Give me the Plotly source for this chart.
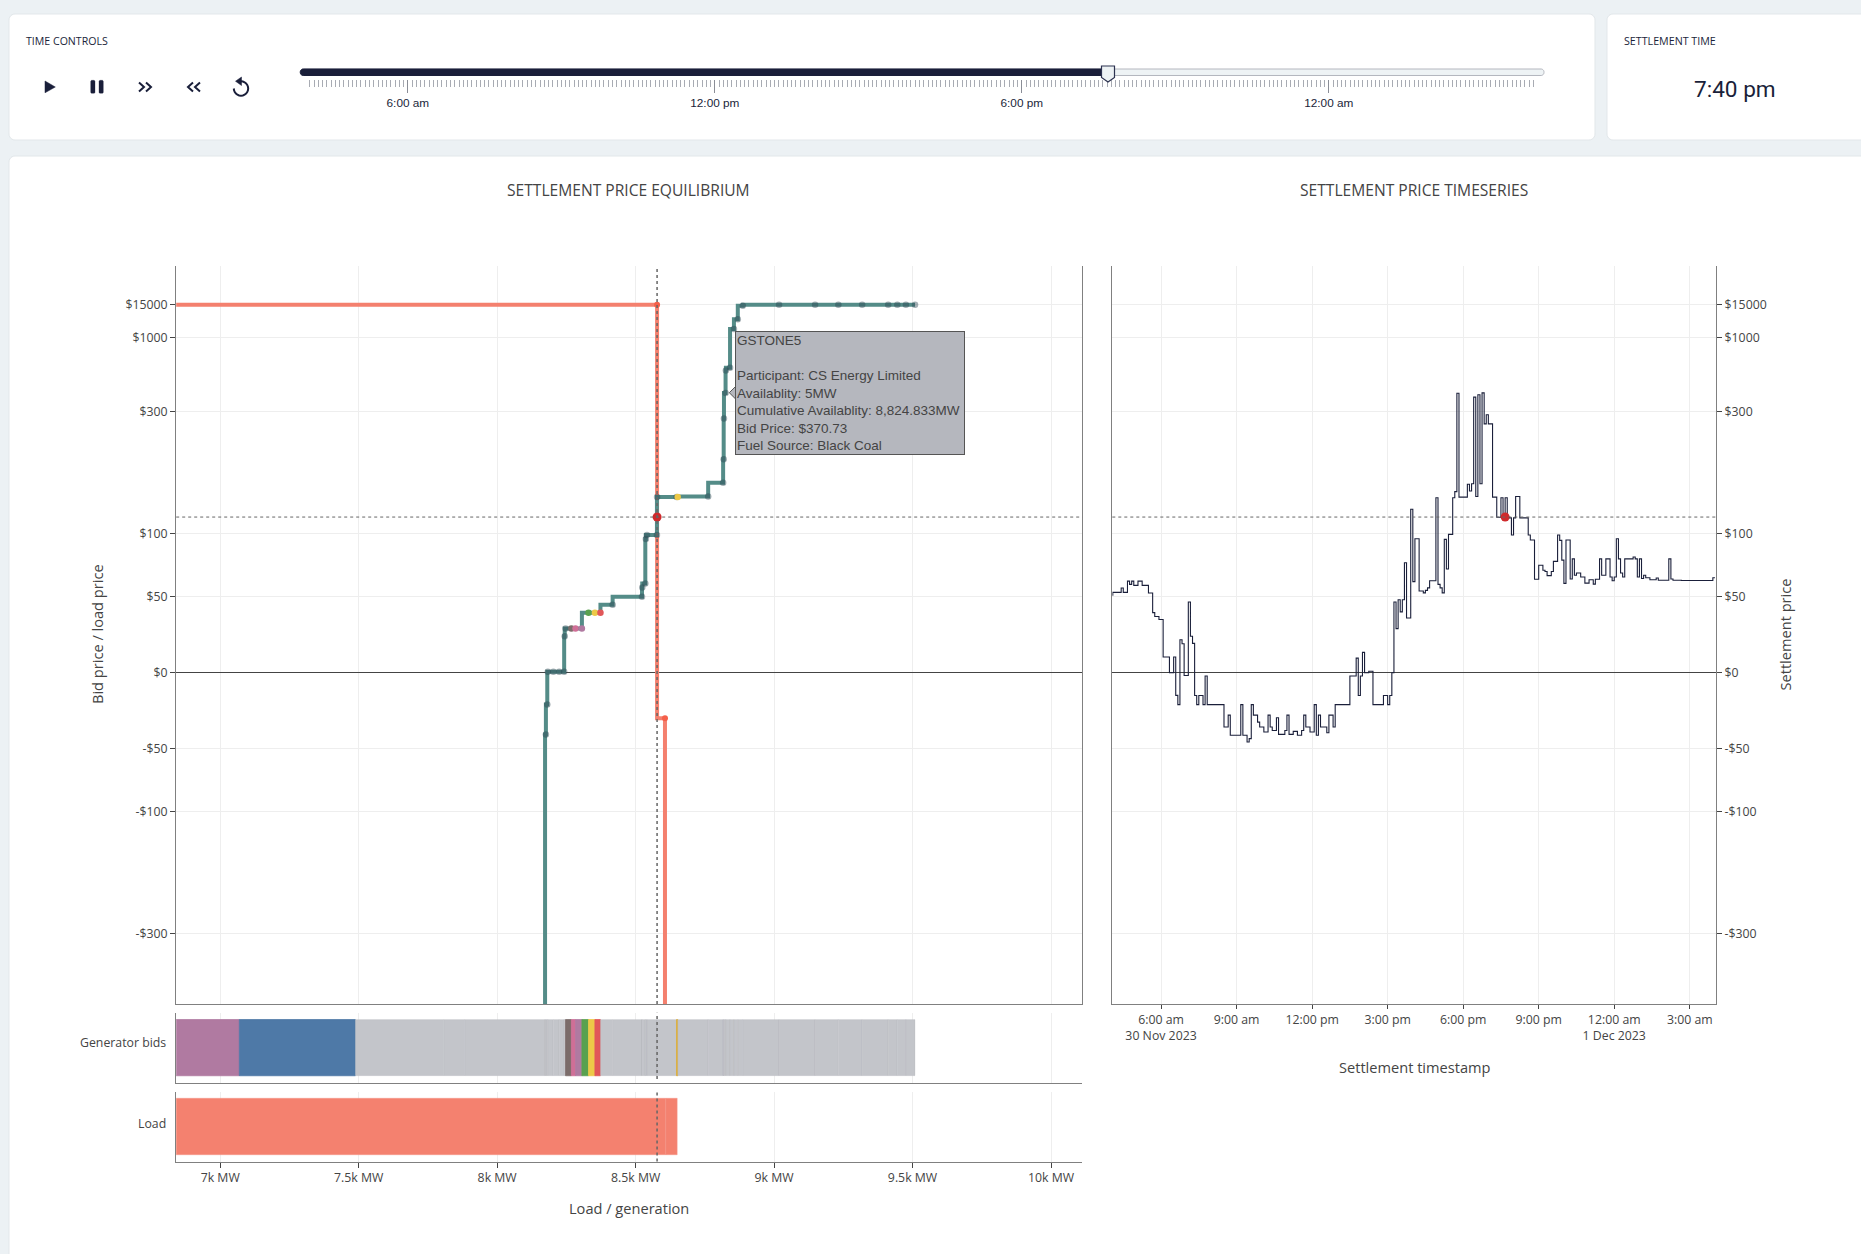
import math
import numpy as np
import pandas as pd
import plotly.graph_objects as go

W, H = 1861, 1254

# ---------- price axis: the dashboard's non-linear scale ----------
PRICE_ANCHORS = [0, 50, 100, 300, 370.73, 1000, 15000]
SCALE_ANCHORS = [0, 76, 139, 261, 279.7, 335, 368]
Y_TICK_PRICES = [15000, 1000, 300, 100, 50, 0, -50, -100, -300]
Y_TICK_LABELS = ["$15000", "$1000", "$300", "$100", "$50", "$0", "-$50", "-$100", "-$300"]
SETTLED_PRICE = 127.3
SETTLED_MW = 8577.5
SETTLED_TIME = "2023-11-30 19:40"

# ---------- generator bid stack ----------
BID_MW = [7069, 7488, 7807, 7883, 8173, 8176, 8181, 8183, 8203, 8224, 8242, 8244, 8247,
          8268, 8283, 8306, 8330, 8353, 8373, 8417, 8523, 8524, 8535, 8537, 8541, 8577,
          8577.5, 8648, 8652, 8762, 8816, 8818, 8819, 8824.833, 8826, 8841, 8855, 8869,
          8887, 9018, 9148, 9232, 9318, 9412, 9445, 9476, 9509]
BID_PRICE = [-1000, -1000, -1000, -1000, -1000, -40.6, -20.9, 0.7, 0.7, 0.7, 0.7, 24, 29,
             29, 29, 29, 39.4, 39.4, 39.4, 44.7, 50, 57.4, 60.5, 95.8, 98.9, 98.9,
             160, 160, 160, 161, 183.5, 222, 289, 370.73, 628, 658, 4640, 8840,
             14580, 15000, 15000, 15000, 15000, 15000, 15000, 15000, 15000]
BID_FUEL = ["purple", "blue"] + ["grey"] * 11 + ["brown", "pink", "purple", "green", "yellow", "red"] \
           + ["grey"] * 9 + ["gold"] + ["grey"] * 18
FUEL_COLOURS = {"purple": "#b07aa1", "blue": "#4e79a7", "grey": "#c3c5ca", "brown": "#7b6c6a",
                "pink": "#cf6f97", "green": "#59a14f", "yellow": "#edc948", "red": "#e15759",
                "gold": "#dca826"}
FUEL_MARKERS = {"purple": "#b07aa1", "blue": "#4e79a7", "grey": "rgba(40,66,78,0.42)", "brown": "#7b6c6a",
                "pink": "#cf6f97", "green": "#59a14f", "yellow": "#edc948", "red": "#e15759",
                "gold": "#edc948"}

# ---------- load curve ----------
LOAD_MW = [6800, 8577.5, 8577.5, 8606, 8606]
LOAD_PRICE = [15000, 15000, -30, -30, -1000]
LOAD_BAR_END = [8609, 8650]

# ---------- settlement price series: 5-minute interval number (from 4:05 am) and price ----------
SETTLE_N = [0, 4, 5, 7, 8, 9, 10, 12, 14, 17, 19, 20, 22, 24, 27, 29, 30, 31, 32, 33, 34, 36, 37, 38, 39, 40, 41, 43, 44, 45,
            53, 55, 56, 61, 62, 64, 65, 66, 67, 69, 70, 72, 74, 75, 76, 78, 79, 82, 83, 84, 86, 88, 90, 91, 92, 94, 96, 97, 98, 99,
            102, 103, 105, 106, 113, 116, 117, 118, 119, 120, 122, 124, 129, 131, 132, 133, 134, 135, 136, 137, 138, 139, 140, 142, 143, 144, 146, 148, 149, 150,
            151, 154, 155, 156, 157, 158, 159, 160, 162, 163, 164, 165, 169, 170, 171, 172, 173, 174, 175, 176, 177, 178, 179, 181, 183, 185, 186, 187, 188, 189,
            190, 191, 192, 194, 198, 199, 201, 203, 205, 206, 207, 209, 210, 212, 213, 214, 215, 216, 218, 219, 220, 221, 223, 225, 227, 229, 230, 232, 233, 235,
            237, 238, 239, 240, 241, 242, 243, 244, 248, 249, 250, 251, 252, 253, 254, 256, 259, 260, 265, 266, 267, 271, 286, 287]
SETTLE_PRICE = [50.8, 53.4, 56.9, 53.4, 62.4, 59.8, 62.4, 59, 62.4, 59, 52.9, 39.5, 37, 35, 10.3, 0, 10.3, -14.9, -21, 21.7, 19, -1.8, 46.5, 24, 19.3, -15, -21, -15, -21, -2.2,
                -21, -35.7, -27.9, -41.2, -21, -41.2, -45.6, -43.4, -21, -27.9, -32.5, -35.7, -39, -27.9, -35.7, -38, -29.6, -40.6, -38, -27.9, -40.6, -38.6, -41.2, -38, -27.9, -35.7, -39, -21, -41.2, -27.9,
                -35.7, -39.5, -27.9, -35.7, -21, -2.2, 9.6, -15, -2.2, 13.4, 0, 1, -21, -15, -21, -15, 0, 46.5, 29, 48, 40, 48, 77, 36, 140, 62, 96, 54.5, 53, 55,
                57, 62.7, 159, 59.8, 57, 53, 95.5, 72, 99.5, 159, 169, 370, 160, 181, 170, 182, 355, 161, 364, 182, 372, 280, 295, 280, 160, 127, 159, 127.3, 159, 127,
                126, 99, 126, 161, 126, 99, 95, 63.8, 75, 71, 70, 66.7, 70, 78, 99, 94.7, 79, 60.6, 95, 64, 80, 67, 68.8, 65.6, 60.8, 63.5, 60, 63.8, 80, 67,
                80, 65.6, 62.7, 65.6, 96, 80, 68.8, 65.6, 80, 81.5, 80, 65.6, 80, 64.5, 67, 65, 63.5, 64.8, 63, 80, 64, 63, 62.8, 65]

TIME_TICKS = ["2023-11-30 06:00", "2023-11-30 09:00", "2023-11-30 12:00", "2023-11-30 15:00", "2023-11-30 18:00",
              "2023-11-30 21:00", "2023-12-01 00:00", "2023-12-01 03:00"]
TIME_LABELS = ["6:00 am<br>30 Nov 2023", "9:00 am", "12:00 pm", "3:00 pm", "6:00 pm", "9:00 pm",
               "12:00 am<br>1 Dec 2023", "3:00 am"]
MW_TICKS = [7000, 7500, 8000, 8500, 9000, 9500, 10000]
MW_LABELS = ["7k MW", "7.5k MW", "8k MW", "8.5k MW", "9k MW", "9.5k MW", "10k MW"]
SLIDER_TICKS = ["2023-11-30 06:00", "2023-11-30 12:00", "2023-11-30 18:00", "2023-12-01 00:00"]
SLIDER_LABELS = ["6:00 am", "12:00 pm", "6:00 pm", "12:00 am"]
TOOLTIP = ("GSTONE5<br> <br>Participant: CS Energy Limited<br>Availablity: 5MW<br>"
           "Cumulative Availablity: 8,824.833MW<br>Bid Price: $370.73<br>Fuel Source: Black Coal")

NAVY = "#1a1f3a"
GRID = "#eeeeee"
AXIS = "#808080"
TEXT = "#444444"
MW_RANGE = [6841, 10113]
SCALE_RANGE = [-331.4, 406.3]
FONT = "Open Sans"


def scale(prices):
    p = np.asarray(prices, dtype=float)
    return np.sign(p) * np.interp(np.abs(p), PRICE_ANCHORS, SCALE_ANCHORS)


def X(px):
    return px / W


def Y(py):
    return 1 - py / H


def path(points, close=False):
    d = "M " + " L ".join(f"{X(a):.6f},{Y(b):.6f}" for a, b in points)
    return d + (" Z" if close else "")


def rounded(x0, y0, x1, y1, r):
    pts = []
    for cx, cy, a0 in [(x1 - r, y0 + r, -90), (x1 - r, y1 - r, 0), (x0 + r, y1 - r, 90), (x0 + r, y0 + r, 180)]:
        for k in range(7):
            t = math.radians(a0 + k * 15)
            pts.append((cx + r * math.cos(t), cy + r * math.sin(t)))
    return path(pts, True)


settle_times = [(pd.Timestamp("2023-11-30 04:05") + pd.Timedelta(minutes=5 * int(n))).strftime("%Y-%m-%d %H:%M")
                for n in SETTLE_N]
slider_minor = [(pd.Timestamp("2023-11-30 04:05") + pd.Timedelta(minutes=5 * n)).strftime("%Y-%m-%d %H:%M")
                for n in range(288)]

fig = go.Figure()

# load curve (below the bid stack)
fig.add_trace(go.Scatter(x=LOAD_MW, y=scale(LOAD_PRICE), mode="lines", xaxis="x", yaxis="y",
                         line=dict(color="#f4806e", width=4), hoverinfo="skip"))
fig.add_trace(go.Scatter(x=[LOAD_MW[1], LOAD_MW[3]], y=scale([LOAD_PRICE[1], LOAD_PRICE[3]]), mode="markers",
                         xaxis="x", yaxis="y", marker=dict(color="#f5604a", size=6), hoverinfo="skip"))
# bid curve
fig.add_trace(go.Scatter(x=BID_MW, y=scale(BID_PRICE), mode="lines+markers", xaxis="x", yaxis="y",
                         line=dict(color="#548c88", width=4, shape="vh"),
                         marker=dict(color=[FUEL_MARKERS[f] for f in BID_FUEL], size=6.5),
                         hoverinfo="skip"))
# equilibrium point
fig.add_trace(go.Scatter(x=[SETTLED_MW], y=scale([SETTLED_PRICE]), mode="markers", xaxis="x", yaxis="y",
                         marker=dict(color="#cf2a2c", size=9), hoverinfo="skip"))

# generator bars
bid_base = [6800] + BID_MW[:-1]
fig.add_trace(go.Bar(x=[b - a for a, b in zip(bid_base, BID_MW)], base=bid_base, y=["Generator bids"] * len(BID_MW),
                     orientation="h", xaxis="x2", yaxis="y2", hoverinfo="skip",
                     marker=dict(color=[FUEL_COLOURS[f] for f in BID_FUEL],
                                 line=dict(color=["rgba(150,152,160,0.15)" if f == "grey" else FUEL_COLOURS[f]
                                                  for f in BID_FUEL], width=0.8))))
# load bars
load_base = [6800] + LOAD_BAR_END[:-1]
fig.add_trace(go.Bar(x=[b - a for a, b in zip(load_base, LOAD_BAR_END)], base=load_base,
                     y=["Load"] * len(LOAD_BAR_END), orientation="h", xaxis="x3", yaxis="y3", hoverinfo="skip",
                     marker=dict(color="#f4816f", line=dict(color="rgba(244,150,135,0.6)", width=0.8))))

# settlement series
fig.add_trace(go.Scatter(x=settle_times, y=scale(SETTLE_PRICE), mode="lines", xaxis="x4", yaxis="y4",
                         line=dict(color=NAVY, width=1.1, shape="vh"), hoverinfo="skip"))
fig.add_trace(go.Scatter(x=[SETTLED_TIME], y=scale([SETTLED_PRICE]), mode="markers", xaxis="x4", yaxis="y4",
                         marker=dict(color="#cf2a2c", size=9), hoverinfo="skip"))
# slider axis carrier
fig.add_trace(go.Scatter(x=[slider_minor[0], SETTLED_TIME], y=[0, 0], mode="lines", xaxis="x5", yaxis="y5",
                         opacity=0, hoverinfo="skip"))

TICK_FONT = dict(size=12.3, color=TEXT, family=FONT)
tick_positions = scale(Y_TICK_PRICES).tolist()
common_y = dict(range=SCALE_RANGE, tickmode="array", tickvals=tick_positions, ticktext=Y_TICK_LABELS,
                showgrid=True, gridcolor=GRID, gridwidth=1, zeroline=True, zerolinecolor="#444444", zerolinewidth=1,
                showline=True, linecolor=AXIS, linewidth=1.2, mirror=True, ticks="outside", ticklen=5,
                tickcolor=TEXT, tickfont=TICK_FONT)
common_mw = dict(range=MW_RANGE, tickmode="array", tickvals=MW_TICKS, showgrid=True, gridcolor=GRID, zeroline=False,
                 showline=True, linecolor=AXIS, linewidth=1.2)
cat_y = dict(type="category", showgrid=False, zeroline=False, showline=True, linecolor=AXIS, linewidth=1.2,
             ticks="", showticklabels=False)


def dom_x(a, b):
    return [X(a), X(b)]


def dom_y(top, bottom):
    return [Y(bottom), Y(top)]


layout = dict(
    width=W, height=H, autosize=False, margin=dict(l=0, r=0, t=0, b=0, pad=0),
    paper_bgcolor="#ecf1f4", plot_bgcolor="rgba(0,0,0,0)", showlegend=False, hovermode=False,
    bargap=0.194, barmode="overlay", font=dict(family=FONT, color=TEXT, size=12),
    xaxis=dict(common_mw, domain=dom_x(176.2, 1082.3), anchor="y", showticklabels=False, ticks=""),
    yaxis=dict(common_y, domain=dom_y(266.4, 1004.1), anchor="x"),
    xaxis2=dict(common_mw, domain=dom_x(176.2, 1082.3), anchor="y2", showticklabels=False, ticks=""),
    yaxis2=dict(cat_y, domain=dom_y(1012.8, 1082.5), anchor="x2"),
    xaxis3=dict(common_mw, domain=dom_x(176.2, 1082.3), anchor="y3", ticktext=MW_LABELS, ticks="outside", ticklen=5,
                tickcolor=TEXT, tickfont=TICK_FONT),
    yaxis3=dict(cat_y, domain=dom_y(1091.5, 1161.5), anchor="x3"),
    xaxis4=dict(type="date", domain=dom_x(1112.3, 1716), anchor="y4",
                range=["2023-11-30 04:03:50", "2023-12-01 04:02:30"], tickmode="array", tickvals=TIME_TICKS,
                ticktext=TIME_LABELS, showgrid=True, gridcolor=GRID, zeroline=False, showline=True, linecolor=AXIS,
                linewidth=1.2, ticks="outside", ticklen=4, tickcolor=TEXT, tickfont=TICK_FONT),
    yaxis4=dict(common_y, domain=dom_y(266.4, 1004.1), anchor="x4", side="right"),
    xaxis5=dict(type="date", domain=dom_x(309.8, 1536), anchor="y5", range=["2023-11-30 04:05", "2023-12-01 04:03"],
                tickmode="array", tickvals=SLIDER_TICKS, ticktext=SLIDER_LABELS, showgrid=False, zeroline=False,
                showline=False, ticks="outside", ticklen=13, tickcolor="#8a8d96", tickwidth=1,
                tickfont=dict(size=11.8, color=NAVY, family="Liberation Sans"),
                minor=dict(tickmode="array", tickvals=slider_minor, ticks="outside", ticklen=7, tickwidth=1,
                           tickcolor="#a8abb3", showgrid=False)),
    yaxis5=dict(domain=dom_y(70, 79), anchor="x5", visible=False, range=[-1, 1]),
)

# ---------- page furniture ----------
card_line = dict(color="#e2e7ea", width=1)
shapes = [
    dict(type="path", xref="paper", yref="paper", path=rounded(9, 14, 1595, 140, 6), fillcolor="white",
         line=card_line, layer="below"),
    dict(type="path", xref="paper", yref="paper", path=rounded(1607, 14, 1880, 140, 6), fillcolor="white",
         line=card_line, layer="below"),
    dict(type="path", xref="paper", yref="paper", path=rounded(9, 156, 1880, 1290, 6), fillcolor="white",
         line=card_line, layer="below"),
    # slider track, filled part and handle
    dict(type="path", xref="paper", yref="paper", path=rounded(300.3, 69, 1544, 75.5, 3), fillcolor="#eef3f5",
         line=dict(color="#b4b7bf", width=1)),
    dict(type="path", xref="paper", yref="paper", path=rounded(300.3, 69, 1107, 75.5, 3), fillcolor=NAVY,
         line=dict(color=NAVY, width=1)),
    dict(type="path", xref="paper", yref="paper",
         path=path([(1101.5, 66), (1114.5, 66), (1114.5, 77.5), (1108, 82), (1101.5, 77.5)], True),
         fillcolor="#edf2f4", line=dict(color="#2d3250", width=1.2)),
    # play
    dict(type="path", xref="paper", yref="paper", path=path([(45, 81), (55.3, 87), (45, 92.8)], True),
         fillcolor=NAVY, line=dict(color=NAVY, width=0.5)),
    # pause
    dict(type="path", xref="paper", yref="paper", path=rounded(90.7, 80.3, 95, 93.3, 1.2), fillcolor=NAVY,
         line=dict(color=NAVY, width=0.3)),
    dict(type="path", xref="paper", yref="paper", path=rounded(99, 80.3, 103.3, 93.3, 1.2), fillcolor=NAVY,
         line=dict(color=NAVY, width=0.3)),
]
for pts in ([(139, 82.5), (144, 87), (139, 91.5)], [(146, 82.5), (151, 87), (146, 91.5)],
            [(193, 82.5), (188, 87), (193, 91.5)], [(200, 82.5), (195, 87), (200, 91.5)]):
    shapes.append(dict(type="path", xref="paper", yref="paper", path=path(pts), line=dict(color=NAVY, width=2)))
# reset icon
arc = [(241 + 7.2 * math.cos(math.radians(a)), 88.5 + 7.2 * math.sin(math.radians(a))) for a in range(-90, 185, 15)]
shapes.append(dict(type="path", xref="paper", yref="paper", path=path(arc), line=dict(color=NAVY, width=2)))
shapes.append(dict(type="path", xref="paper", yref="paper", path=path([(241.5, 77), (241.5, 85.5), (235.5, 81.2)], True),
                   fillcolor=NAVY, line=dict(color=NAVY, width=0.5)))

# equilibrium guides
guide_v = dict(color="#666666", width=1.5, dash="dot")
guide_h = dict(color="#666666", width=1, dash="3px,3px")
shapes += [
    dict(type="line", xref="x", yref="y domain", x0=SETTLED_MW, x1=SETTLED_MW, y0=0, y1=1, line=guide_v),
    dict(type="line", xref="x2", yref="y2 domain", x0=SETTLED_MW, x1=SETTLED_MW, y0=0.05, y1=1, line=guide_v),
    dict(type="line", xref="x3", yref="y3 domain", x0=SETTLED_MW, x1=SETTLED_MW, y0=0, y1=1, line=guide_v),
    dict(type="line", xref="x domain", yref="y", x0=0, x1=1, y0=float(scale([SETTLED_PRICE])[0]),
         y1=float(scale([SETTLED_PRICE])[0]), line=guide_h),
    dict(type="line", xref="x4 domain", yref="y4", x0=0, x1=1, y0=float(scale([SETTLED_PRICE])[0]),
         y1=float(scale([SETTLED_PRICE])[0]), line=guide_h),
    # tooltip pointer
    dict(type="path", xref="paper", yref="paper", path=path([(729.3, 392.7), (735.6, 386.5), (735.6, 399)], True),
         fillcolor="#b5b7be", line=dict(color="#555555", width=1)),
]
layout["shapes"] = shapes


def note(text, px, py, size=12, color=TEXT, family=FONT, xanchor="center", angle=0):
    return dict(text=text, xref="paper", yref="paper", x=X(px), y=Y(py), showarrow=False, xanchor=xanchor,
                yanchor="middle", textangle=angle, font=dict(size=size, color=color, family=family))


layout["annotations"] = [
    note("TIME CONTROLS", 24, 41, 10.6, NAVY, xanchor="left"),
    note("SETTLEMENT TIME", 1622, 41, 10.7, NAVY, xanchor="left"),
    note("7:40 pm", 1735, 89, 22.6, NAVY, "Roboto"),
    note("SETTLEMENT PRICE EQUILIBRIUM", 628.5, 190.5, 15.6),
    note("SETTLEMENT PRICE TIMESERIES", 1414, 190.5, 15.6),
    note("Bid price / load price", 97.5, 634.5, 14.6, angle=-90),
    note("Settlement price", 1785, 634.5, 14.6, angle=-90),
    note("Load / generation", 628.5, 1208, 14.6),
    note("Settlement timestamp", 1414, 1067, 14.6),
    note("Generator bids", 167.5, 1042.7, 12.3, xanchor="right"),
    note("Load", 167.5, 1123.5, 12.3, xanchor="right"),
    dict(text=TOOLTIP, xref="x", yref="y", x=8824.833, y=float(scale([370.73])[0]), xshift=9.5, showarrow=False,
         xanchor="left", yanchor="middle", align="left", width=226, bgcolor="#b5b7be", bordercolor="#555555",
         borderwidth=1, borderpad=1, font=dict(size=13.5, color="#444444", family="Liberation Sans")),
]

fig.update_layout(**layout)
fig.write_html("out.html", config=dict(displayModeBar=False),
               post_script="document.body.style.margin='0';document.body.style.background='#ecf1f4';")
